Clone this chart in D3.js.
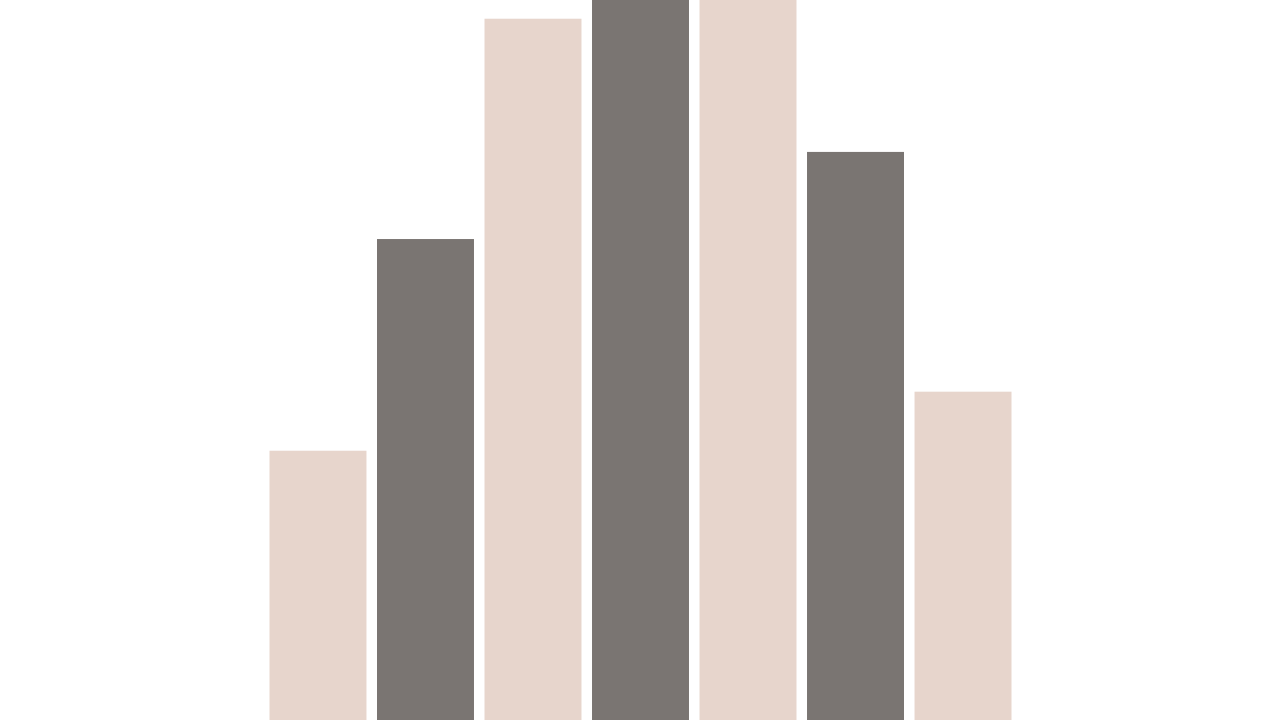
<!DOCTYPE html>
<html>
<head>
<meta charset="utf-8">
<script src="https://cdn.jsdelivr.net/npm/d3@7"></script>
<style>
  html, body { margin: 0; padding: 0; background: #ffffff; overflow: hidden; }
  svg { display: block; }
</style>
</head>
<body>
<svg id="chart" width="1280" height="720"></svg>
<script>
const categories = ["A", "B", "C", "D", "E", "F", "G"];
const values = [37.4, 66.8, 97.4, 104, 102, 78.9, 45.6];
const seriesColors = ["#e7d5cc", "#7a7572"];

const width = 1280, height = 720;
const svg = d3.select("#chart");

const x = d3.scaleBand()
  .domain(categories)
  .range([269.5, 1011.5])
  .paddingInner(0.098)
  .paddingOuter(0);

const y = d3.scaleLinear()
  .domain([0, 100])
  .range([height, 0]);

svg.append("rect").attr("width", width).attr("height", height).attr("fill", "#ffffff");

svg.append("g")
  .selectAll("rect")
  .data(values)
  .join("rect")
  .attr("x", (d, i) => x(categories[i]))
  .attr("y", d => y(d))
  .attr("width", x.bandwidth())
  .attr("height", d => y(0) - y(d))
  .attr("fill", (d, i) => seriesColors[i % 2]);
</script>
</body>
</html>
